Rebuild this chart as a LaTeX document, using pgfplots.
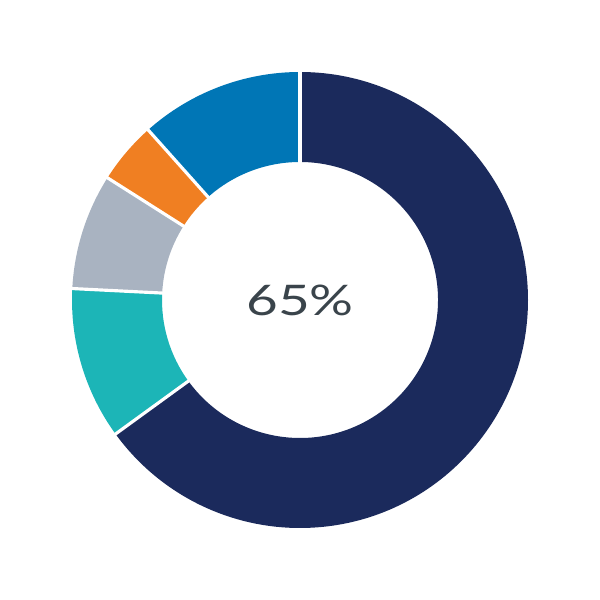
\documentclass[border=0pt]{standalone}
\usepackage{pgfplots}
\usepackage{pgfplotstable}
\pgfplotsset{compat=1.18}
\usepackage{fontspec}
\setmainfont{Lato}
\definecolor{seg0}{HTML}{1B2A5C}
\definecolor{seg1}{HTML}{1CB5B7}
\definecolor{seg2}{HTML}{A9B3C1}
\definecolor{seg3}{HTML}{F07F22}
\definecolor{seg4}{HTML}{0076B6}
\definecolor{txt}{HTML}{3A444B}
\pgfplotstableread{
value
65
10.8
8.2
4.4
11.6
}\donut
\begin{document}
\begin{tikzpicture}
\xdef\cumang{90}
\foreach \i in {0,...,4}{%
  \pgfplotstablegetelem{\i}{value}\of\donut
  \pgfmathsetmacro{\e}{\cumang-3.6*\pgfplotsretval}%
  \expandafter\xdef\csname sa\i\endcsname{\cumang}%
  \expandafter\xdef\csname ea\i\endcsname{\e}%
  \xdef\cumang{\e}%
}
\begin{axis}[
  x=1cm, y=1cm,
  xmin=-3, xmax=3, ymin=-3, ymax=3,
  hide axis, clip=false,
  scale only axis,
]
\addplot[draw=none] coordinates {(-3,-3) (3,3)};
\coordinate (c) at (axis cs:0,0);
\pgfplotsinvokeforeach{0,...,4}{
  \fill[seg#1] ([shift={(\csname sa#1\endcsname:2.28cm)}]c)
    arc[start angle=\csname sa#1\endcsname, end angle=\csname ea#1\endcsname, radius=2.28cm]
    -- ([shift={(\csname ea#1\endcsname:1.38cm)}]c)
    arc[start angle=\csname ea#1\endcsname, end angle=\csname sa#1\endcsname, radius=1.38cm]
    -- cycle;
}
\pgfplotsinvokeforeach{0,...,4}{
  \draw[white, line width=0.9pt] ([shift={(\csname sa#1\endcsname:1.30cm)}]c)
    -- ([shift={(\csname sa#1\endcsname:2.36cm)}]c);
}
\node[text=txt, font=\fontsize{12}{14}\selectfont, xscale=1.3] at (c) {65\%};
\end{axis}
\end{tikzpicture}
\end{document}
